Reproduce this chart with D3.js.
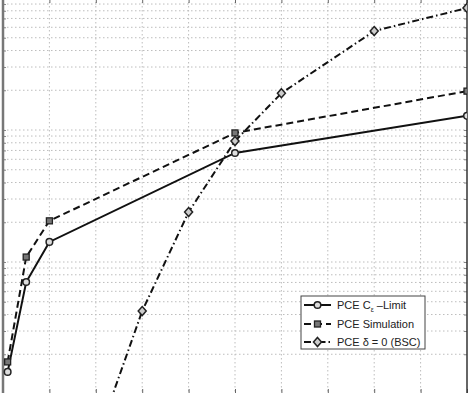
<!DOCTYPE html>
<html><head><meta charset="utf-8">
<script src="https://cdn.jsdelivr.net/npm/d3@7"></script>
<style>html,body{margin:0;padding:0;background:#fff;overflow:hidden}</style>
</head><body>
<svg id="c" width="474" height="393"></svg>
<script>
const xValsMain = [0.1, 0.5, 1, 5, 10];
const limitVals = [1.47e-3, 7.05e-3, 1.42e-2, 6.7e-2, 0.128];
const simVals = [1.75e-3, 1.09e-2, 2.05e-2, 9.5e-2, 0.197];
const xValsBsc = [2, 3, 4, 5, 6, 8, 10];
const bscVals = [4.3e-4, 4.25e-3, 2.39e-2, 8.25e-2, 0.19, 0.562, 0.84];
const xTicks = [0,1,2,3,4,5,6,7,8,9,10];
const legendLabels = ["PCE C", "PCE Simulation", "PCE \u03b4 = 0 (BSC)"];

const svg = d3.select("#c");
const L = 3, R = 467, T = -2, B = 394;
const x = d3.scaleLinear().domain([0,10]).range([L,R]);
const y = d3.scaleLog().domain([1e-3,1]).range([B,T]);

svg.append("defs").append("clipPath").attr("id","clip")
  .append("rect").attr("x",L).attr("y",T).attr("width",R-L).attr("height",B-T);

// grid
const g = svg.append("g");
xTicks.slice(1,-1).forEach(v=>{
  g.append("line").attr("x1",x(v)).attr("x2",x(v)).attr("y1",T).attr("y2",B)
   .attr("stroke","#bdbdbd").attr("stroke-width",1).attr("stroke-dasharray","1.5,2.5");
});
const yGrid = [];
for (let e=-3; e<0; e++) for (let k=1;k<=9;k++) { const v=k*Math.pow(10,e); if (v>1e-3) yGrid.push(v); }
yGrid.forEach(v=>{
  g.append("line").attr("x1",L).attr("x2",R).attr("y1",y(v)).attr("y2",y(v))
   .attr("stroke","#bdbdbd").attr("stroke-width",1).attr("stroke-dasharray","1.5,2.5");
});

// axes
svg.append("g").attr("transform",`translate(0,${B})`)
  .call(d3.axisBottom(x).tickValues(xTicks).tickSizeInner(-5).tickSizeOuter(0).tickFormat(""))
  .call(a=>a.select(".domain").remove()).selectAll("line").attr("stroke","#666");
svg.append("g").attr("transform",`translate(0,${T})`)
  .call(d3.axisTop(x).tickValues(xTicks).tickSizeInner(-5).tickSizeOuter(0).tickFormat(""))
  .call(a=>a.select(".domain").remove()).selectAll("line").attr("stroke","#666");
svg.append("g").attr("transform",`translate(${L},0)`)
  .call(d3.axisLeft(y).tickValues(yGrid).tickSizeInner(-3).tickSizeOuter(0).tickFormat(""))
  .call(a=>a.select(".domain").remove()).selectAll("line").attr("stroke","#888");
svg.append("g").attr("transform",`translate(${R},0)`)
  .call(d3.axisRight(y).tickValues(yGrid).tickSizeInner(-3).tickSizeOuter(0).tickFormat(""))
  .call(a=>a.select(".domain").remove()).selectAll("line").attr("stroke","#888");
svg.append("line").attr("x1",L).attr("x2",L).attr("y1",T).attr("y2",B).attr("stroke","#777").attr("stroke-width",2.5);
svg.append("line").attr("x1",R).attr("x2",R).attr("y1",T).attr("y2",B).attr("stroke","#333").attr("stroke-width",1.5);

const line = d3.line().x(d=>x(d[0])).y(d=>y(d[1]));
const plot = svg.append("g").attr("clip-path","url(#clip)");
const series = [
  {xs:xValsMain, ys:limitVals, dash:null, marker:"circle"},
  {xs:xValsMain, ys:simVals, dash:"7,4", marker:"square"},
  {xs:xValsBsc, ys:bscVals, dash:"7,3,1.5,3", marker:"diamond"}
];
function drawMarker(sel, type, cx, cy){
  if (type==="circle") sel.append("circle").attr("cx",cx).attr("cy",cy).attr("r",3.3)
     .attr("fill","#ddd").attr("stroke","#222").attr("stroke-width",1.5);
  else if (type==="square") sel.append("rect").attr("x",cx-3).attr("y",cy-3).attr("width",6).attr("height",6)
     .attr("fill","#777").attr("stroke","#222").attr("stroke-width",1.3);
  else sel.append("path").attr("d",`M${cx},${cy-4.5}L${cx+4},${cy}L${cx},${cy+4.5}L${cx-4},${cy}Z`)
     .attr("fill","#ccc").attr("stroke","#222").attr("stroke-width",1.5);
}
series.forEach(s=>{
  const pts = s.xs.map((v,i)=>[v,s.ys[i]]);
  plot.append("path").attr("d",line(pts)).attr("fill","none").attr("stroke","#111")
    .attr("stroke-width",2).attr("stroke-dasharray",s.dash);
  pts.forEach(p=>drawMarker(plot, s.marker, x(p[0]), y(p[1])));
});

// legend
const lg = svg.append("g");
lg.append("rect").attr("x",301).attr("y",296).attr("width",124).attr("height",53)
  .attr("fill","#fff").attr("stroke","#444").attr("stroke-width",1);
const rowsY = [305, 324, 342];
series.forEach((s,i)=>{
  const yy = rowsY[i];
  lg.append("line").attr("x1",304).attr("x2",331).attr("y1",yy).attr("y2",yy)
    .attr("stroke","#111").attr("stroke-width",2).attr("stroke-dasharray",s.dash);
  drawMarker(lg, s.marker, 317.5, yy);
  const t = lg.append("text").attr("x",337).attr("y",yy+4).attr("font-family","Liberation Sans, Arial, sans-serif")
    .attr("font-size",11).attr("fill","#222");
  if (i===0){
    t.append("tspan").text(legendLabels[0]);
    t.append("tspan").attr("font-size",7).attr("dy",3).text("\u03b5");
    t.append("tspan").attr("dy",-3).text(" \u2013Limit");
  } else t.text(legendLabels[i]);
});
</script>
</body></html>
